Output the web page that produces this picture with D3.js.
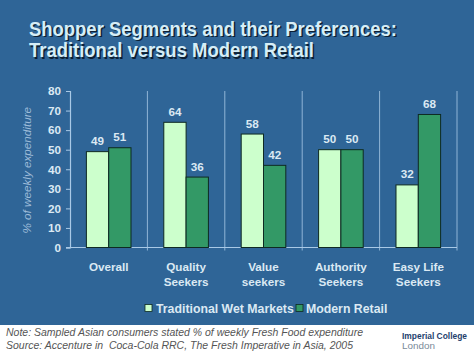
<!DOCTYPE html>
<html><head><meta charset="utf-8">
<script src="https://cdn.jsdelivr.net/npm/d3@7/dist/d3.min.js"></script>
<style>body{margin:0;padding:0;background:#fff}svg{display:block}</style>
</head><body>
<script>
const categories = [["Overall"],["Quality","Seekers"],["Value","seekers"],["Authority","Seekers"],["Easy Life","Seekers"]];
const traditional = [49,64,58,50,32];
const modern = [51,36,42,50,68];
const seriesNames = ["Traditional Wet Markets","Modern Retail"];
const yTicks = [0,10,20,30,40,50,60,70,80];

const W=474,H=355;
const svg=d3.select("body").append("svg").attr("width",W).attr("height",H);
const bg="#2f6597";
const font="Liberation Sans, Arial, sans-serif";
svg.append("rect").attr("width",W).attr("height",325).attr("fill",bg);
svg.append("rect").attr("y",325).attr("width",W).attr("height",30).attr("fill","#fff");

// title with shadow
const titleLines=["Shopper Segments and their Preferences:","Traditional versus Modern Retail"];
const titleLen=[368,285];
titleLines.forEach((t,i)=>{
  [[1.5,"#0d1f33"],[0,"#d6eef7"]].forEach(([o,c])=>{
    svg.append("text").attr("x",29+o).attr("y",35.5+o+i*21.5).text(t)
      .attr("font-family",font).attr("font-weight","bold")
      .attr("font-size",19.5).attr("fill",c)
      .attr("textLength",titleLen[i]).attr("lengthAdjust","spacingAndGlyphs");
  });
});

const x0=70,x1=457,yTop=91,yBot=247.5;
const xc=d3.scaleBand().domain(d3.range(categories.length)).range([x0,x1]);
const xs=d3.scaleBand().domain([0,1]).range([0,xc.bandwidth()]).paddingInner(0).paddingOuter(0.735);
const y=d3.scaleLinear().domain([0,80]).range([yBot,yTop]);

const axisCol="#a9c9e6";
const lab="#dbe9f3";

// category dividers
d3.range(1,categories.length+1).forEach(i=>{
  const xx=x0+xc.step()*i;
  svg.append("line").attr("x1",xx).attr("x2",xx).attr("y1",yTop).attr("y2",yBot+3)
    .attr("stroke",axisCol).attr("stroke-width",1).attr("opacity",0.8);
});

// y axis
const ya=svg.append("g").attr("transform",`translate(${x0},0)`)
  .call(d3.axisLeft(y).tickValues(yTicks).tickSize(4).tickPadding(5));
ya.select(".domain").attr("stroke",axisCol).attr("stroke-width",1.2);
ya.selectAll(".tick line").attr("stroke",axisCol);
ya.selectAll(".tick text").attr("fill",lab).attr("font-family",font).attr("font-weight","bold").attr("font-size",11.7);

// x axis baseline
svg.append("line").attr("x1",x0-4).attr("x2",x1).attr("y1",yBot).attr("y2",yBot).attr("stroke",axisCol).attr("stroke-width",1.2);

// y label
svg.append("text").attr("transform",`translate(31,${(yTop+yBot)/2+1}) rotate(-90)`)
  .attr("text-anchor","middle").attr("font-family",font).attr("font-style","italic")
  .attr("font-size",11.7).attr("fill","#9dbbd9").text("% of weekly expenditure");

const colors=["#ccffcc","#339966"];
const data=[traditional,modern];
data.forEach((arr,s)=>{
  arr.forEach((v,i)=>{
    const bx=xc(i)+xs(s);
    svg.append("rect").attr("x",bx).attr("y",y(v)).attr("width",xs.bandwidth()).attr("height",yBot-y(v))
      .attr("fill",colors[s]).attr("stroke","#0e2a22").attr("stroke-width",1);
    svg.append("text").attr("x",bx+xs.bandwidth()/2).attr("y",y(v)-6.5).attr("text-anchor","middle")
      .attr("font-family",font).attr("font-weight","bold").attr("font-size",11.7).attr("fill",lab).text(v);
  });
});

// category labels
categories.forEach((lines,i)=>{
  lines.forEach((t,j)=>{
    svg.append("text").attr("x",xc(i)+xc.bandwidth()/2).attr("y",270.5+j*15.3).attr("text-anchor","middle")
      .attr("font-family",font).attr("font-weight","bold").attr("font-size",11.7).attr("fill",lab).text(t);
  });
});

// legend
const lg=[{x:145,tx:156},{x:296,tx:306}];
seriesNames.forEach((n,i)=>{
  svg.append("rect").attr("x",lg[i].x).attr("y",304.5).attr("width",7).attr("height",7)
    .attr("fill",colors[i]).attr("stroke","#0e2a22").attr("stroke-width",0.8);
  svg.append("text").attr("x",lg[i].tx).attr("y",312.5).attr("font-family",font).attr("font-weight","bold")
    .attr("font-size",12.3).attr("fill",lab).text(n);
});

// footer
const notes=["Note: Sampled Asian consumers stated % of weekly Fresh Food expenditure","Source: Accenture in  Coca-Cola RRC, The Fresh Imperative in Asia, 2005"];
const noteLen=[357,347];
notes.forEach((t,i)=>{
  svg.append("text").attr("x",6).attr("y",336+i*13.3).attr("font-family",font).attr("font-style","italic")
    .attr("font-size",11).attr("fill","#555").attr("xml:space","preserve")
    .attr("textLength",noteLen[i]).attr("lengthAdjust","spacingAndGlyphs").text(t);
});
svg.append("text").attr("x",402).attr("y",338.5).attr("font-family",font).attr("font-weight","bold")
  .attr("font-size",9.2).attr("fill","#1f3f6e").attr("textLength",65).attr("lengthAdjust","spacingAndGlyphs").text("Imperial College");
svg.append("text").attr("x",402).attr("y",348.5).attr("font-family",font)
  .attr("font-size",9.2).attr("fill","#7a8a99").attr("textLength",33).attr("lengthAdjust","spacingAndGlyphs").text("London");
</script>
</body></html>
